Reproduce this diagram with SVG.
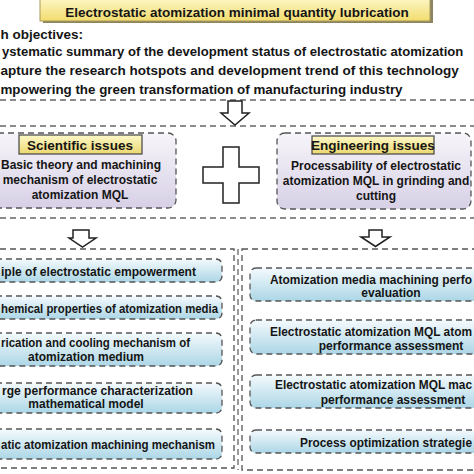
<svg xmlns="http://www.w3.org/2000/svg" width="474" height="474" viewBox="0 0 474 474">
<defs>
<linearGradient id="gTitle" x1="0" y1="0" x2="0" y2="1"><stop offset="0" stop-color="#fffbd6"/><stop offset="1" stop-color="#f2dc6e"/></linearGradient>
<linearGradient id="gLabel" x1="0" y1="0" x2="0" y2="1"><stop offset="0" stop-color="#fdf8c8"/><stop offset="1" stop-color="#ecd870"/></linearGradient>
<linearGradient id="gLav" x1="0" y1="0" x2="0" y2="1"><stop offset="0" stop-color="#f7f5fa"/><stop offset="1" stop-color="#d7d0e6"/></linearGradient>
<linearGradient id="gBlue" x1="0" y1="0" x2="0" y2="1"><stop offset="0" stop-color="#f4fafd"/><stop offset="1" stop-color="#acd6e6"/></linearGradient>
</defs>
<style>
text{font-family:"Liberation Sans",Arial,sans-serif;font-weight:bold;fill:#151515}
.h{font-size:13.5px}
.b{font-size:12px}
.c{text-anchor:middle}
.dl{stroke:#666;stroke-width:1.3;stroke-dasharray:6 4;fill:none}
.box{stroke:#555;stroke-width:1.3;stroke-dasharray:6 4}
.lav{fill:url(#gLav)}
.blue{fill:url(#gBlue)}
.lbl{fill:url(#gLabel);stroke:#444;stroke-width:1.2}
.arr{fill:#fff;stroke:#222;stroke-width:1.5;stroke-linejoin:miter}
</style>
<rect width="474" height="474" fill="#fff"/>

<g id="title">
<rect x="43" y="-4" width="390" height="27" fill="#8c8460"/>
<rect x="40" y="-6" width="390" height="27" fill="url(#gTitle)" stroke="#a89a5a" stroke-width="1"/>
<text class="h c" x="237" y="17">Electrostatic atomization minimal quantity lubrication</text>
</g>

<g id="objectives">
<text class="h" x="0.5" y="39">h objectives:</text>
<text class="h" x="2" y="56" style="font-size:13.1px">ystematic summary of the development status of electrostatic atomization</text>
<text class="h" x="0.5" y="75">apture the research hotspots and development trend of this technology</text>
<text class="h" x="0.5" y="93.5" textLength="402" lengthAdjust="spacingAndGlyphs">mpowering the green transformation of manufacturing industry</text>
</g>

<g id="connectors">
<line class="dl" x1="0" y1="100" x2="474" y2="100"/>
<line class="dl" x1="0" y1="126" x2="474" y2="126"/>
<line class="dl" x1="0" y1="218" x2="474" y2="218"/>
<line class="dl" x1="238" y1="249" x2="238" y2="470"/>
<path class="arr" d="M228,101 H242 V113 H249 L235,125 L221,113 H228 Z"/>
<path class="arr" d="M73,230 H89 V238 H96 L82.5,247 L69,238 H73 Z"/>
<path class="arr" d="M369,230 H382 V237 H390 L375.5,246.5 L361,237 H369 Z"/>
</g>

<g id="plus">
<path class="arr" d="M223,147 H239 V167 H259 V183 H239 V203 H223 V183 H203 V167 H223 Z"/>
</g>

<g id="scientific">
<rect class="box lav" x="-10" y="133" width="186" height="75" rx="8"/>
<rect class="lbl" x="19" y="135" width="123" height="19"/>
<text class="h c" x="80" y="149.5">Scientific issues</text>
<text class="b c" x="81" y="169">Basic theory and machining</text>
<text class="b c" x="80" y="184">mechanism of electrostatic</text>
<text class="b c" x="80" y="198.5">atomization MQL</text>
</g>

<g id="engineering">
<rect class="box lav" x="277" y="133" width="194" height="76" rx="8"/>
<rect class="lbl" x="312" y="136" width="122" height="18"/>
<text class="h c" x="373" y="150">Engineering issues</text>
<text class="b c" x="376" y="170">Processability of electrostatic</text>
<text class="b c" x="376" y="185">atomization MQL in grinding and</text>
<text class="b c" x="376" y="200">cutting</text>
</g>

<g id="left-panel">
<rect class="box" x="-10" y="249" width="244" height="219" fill="none"/>
</g>
<g id="right-panel">
<rect class="box" x="242" y="249" width="250" height="221" fill="none"/>
</g>

<g id="l1"><rect class="box blue" x="-10" y="259" width="232" height="23" rx="6"/>
<text class="b" x="1" y="276" textLength="195" lengthAdjust="spacingAndGlyphs">iple of electrostatic empowerment</text></g>
<g id="l2"><rect class="box blue" x="-10" y="296" width="232" height="23" rx="6"/>
<text class="b" x="1" y="313" textLength="217" lengthAdjust="spacingAndGlyphs">hemical properties of atomization media</text></g>
<g id="l3"><rect class="box blue" x="-10" y="333" width="232" height="33" rx="6"/>
<text class="b" x="1" y="347" textLength="189" lengthAdjust="spacingAndGlyphs">rication and cooling mechanism of</text>
<text class="b c" x="86" y="361">atomization medium</text></g>
<g id="l4"><rect class="box blue" x="-10" y="383" width="232" height="30" rx="6"/>
<text class="b" x="2" y="395" textLength="191" lengthAdjust="spacingAndGlyphs">rge performance characterization</text>
<text class="b c" x="86" y="407.5">mathematical model</text></g>
<g id="l5"><rect class="box blue" x="-10" y="429" width="232" height="30" rx="6"/>
<text class="b" x="1" y="449" textLength="214" lengthAdjust="spacingAndGlyphs">atic atomization machining mechanism</text></g>

<g id="r1"><rect class="box blue" x="250" y="268" width="240" height="33" rx="6"/>
<text class="b" x="270" y="283.5" textLength="202" lengthAdjust="spacingAndGlyphs">Atomization media machining perfo</text>
<text class="b c" x="391" y="297">evaluation</text></g>
<g id="r2"><rect class="box blue" x="250" y="320" width="240" height="34" rx="6"/>
<text class="b" x="270" y="336" textLength="202" lengthAdjust="spacingAndGlyphs">Electrostatic atomization MQL atom</text>
<text class="b c" x="391" y="350">performance assessment</text></g>
<g id="r3"><rect class="box blue" x="250" y="375" width="240" height="33" rx="6"/>
<text class="b" x="275" y="389" textLength="197" lengthAdjust="spacingAndGlyphs">Electrostatic atomization MQL mac</text>
<text class="b c" x="393" y="404">performance assessment</text></g>
<g id="r4"><rect class="box blue" x="250" y="430" width="240" height="23" rx="6"/>
<text class="b" x="300" y="447" textLength="172" lengthAdjust="spacingAndGlyphs">Process optimization strategie</text></g>
</svg>
